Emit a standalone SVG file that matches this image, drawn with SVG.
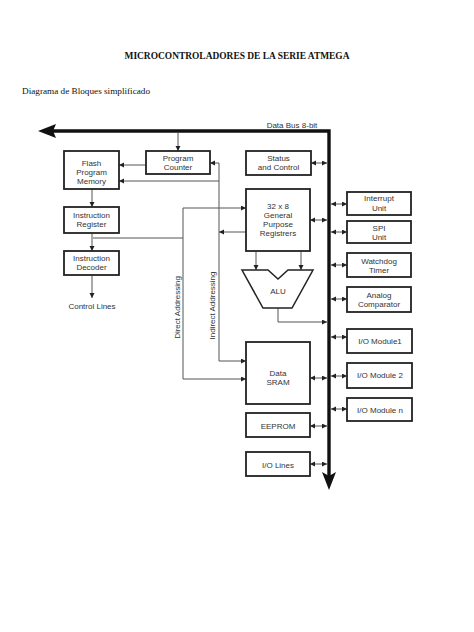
<svg xmlns="http://www.w3.org/2000/svg" width="474" height="632" viewBox="0 0 474 632">
<defs>
<style>
.box{fill:#fff;stroke:#222;stroke-width:1.8}
.t{font-family:"Liberation Sans",Arial,sans-serif;font-size:8px;fill:#333;text-anchor:middle}
.c{fill:none;stroke:#555;stroke-width:1}
.a{marker-end:url(#ah)}
.d{marker-start:url(#ah);marker-end:url(#ah)}
.bus{fill:none;stroke:#111;stroke-width:3.4;stroke-linejoin:miter}
</style>
<marker id="ah" markerUnits="userSpaceOnUse" markerWidth="6" markerHeight="6" refX="5" refY="2.5" orient="auto-start-reverse">
<path d="M0,0 L5,2.5 L0,5 z" fill="#222"/>
</marker>
</defs>
<rect width="474" height="632" fill="#fff"/>
<text x="237" y="59" font-family="Liberation Serif,Times New Roman,serif" font-weight="bold" font-size="9.4" text-anchor="middle" textLength="225" lengthAdjust="spacingAndGlyphs" fill="#111">MICROCONTROLADORES DE LA SERIE ATMEGA</text>
<text x="22" y="94" font-family="Liberation Serif,Times New Roman,serif" font-size="9" textLength="128" lengthAdjust="spacingAndGlyphs" fill="#111">Diagrama de Bloques simplificado</text>

<g id="bus">
<path class="bus" d="M52,131 H329 V476"/>
<polygon points="38,131 56,124 53,131 56,138" fill="#111"/>
<polygon points="329,490 322,472 329,476 336,472" fill="#111"/>
<text class="t" x="292" y="128">Data Bus 8-bit</text>
</g>

<g id="connectors">
<path class="c a" d="M178,132.5 V151"/>
<path class="c a" d="M146,165 H119"/>
<path class="c a" d="M219,163 H210"/>
<path class="c a" d="M219,163 V361 H246"/>
<path class="c a" d="M219,181 H119"/>
<path class="c a" d="M246,232 H219"/>
<path class="c" d="M93,238 H183"/>
<path class="c a" d="M183,208 V379 H246"/>
<path class="c a" d="M183,208 H246"/>
<path class="c a" d="M92,189 V207"/>
<path class="c a" d="M92,233 V251"/>
<path class="c a" d="M92,275 V298"/>
<path class="c a" d="M256,251 V270"/>
<path class="c a" d="M301,251 V270"/>
<path class="c a" d="M278,308 V322 H327"/>
<path class="c d" d="M311,163 H327"/>
<path class="c d" d="M310,220 H327"/>
<path class="c d" d="M310,378 H327"/>
<path class="c d" d="M310,426 H327"/>
<path class="c d" d="M310,464 H327"/>
<path class="c d" d="M331,204 H347"/>
<path class="c d" d="M331,232 H347"/>
<path class="c d" d="M331,265 H347"/>
<path class="c d" d="M331,299 H347"/>
<path class="c d" d="M331,337 H347"/>
<path class="c d" d="M331,376 H347"/>
<path class="c d" d="M331,409 H347"/>
<text class="t" transform="translate(180,307.5) rotate(-90)">Direct Addressing</text>
<text class="t" transform="translate(215,305.5) rotate(-90)">Indirect Addressing</text>
</g>

<g id="flash"><rect class="box" x="64" y="151" width="55" height="38"/>
<text class="t" x="91.5" y="165.5">Flash</text><text class="t" x="91.5" y="174.5">Program</text><text class="t" x="91.5" y="184">Memory</text></g>
<g id="pc"><rect class="box" x="146" y="151" width="64" height="23"/>
<text class="t" x="178" y="160.5">Program</text><text class="t" x="178" y="169.5">Counter</text></g>
<g id="ir"><rect class="box" x="64" y="207" width="55" height="26"/>
<text class="t" x="91.5" y="218">Instruction</text><text class="t" x="91.5" y="227">Register</text></g>
<g id="id"><rect class="box" x="64" y="251" width="55" height="24"/>
<text class="t" x="91.5" y="261">Instruction</text><text class="t" x="91.5" y="270">Decoder</text></g>
<g id="control"><text class="t" x="92" y="309">Control Lines</text></g>
<g id="status"><rect class="box" x="246" y="151" width="65" height="24"/>
<text class="t" x="278.5" y="160.5">Status</text><text class="t" x="278.5" y="169.5">and Control</text></g>
<g id="gpr"><rect class="box" x="246" y="189" width="64" height="62"/>
<text class="t" x="278" y="208.5">32 x 8</text><text class="t" x="278" y="217.5">General</text><text class="t" x="278" y="227">Purpose</text><text class="t" x="278" y="236">Registrers</text></g>
<g id="alu"><polygon class="box" points="242,270 268,270 278,279 288,270 313,270 292,308 263,308" style="stroke-width:1.5"/>
<text class="t" x="278" y="294">ALU</text></g>
<g id="sram"><rect class="box" x="246" y="342" width="64" height="62"/>
<text class="t" x="278" y="375.5">Data</text><text class="t" x="278" y="385">SRAM</text></g>
<g id="eeprom"><rect class="box" x="246" y="413" width="64" height="24"/>
<text class="t" x="278" y="428.5">EEPROM</text></g>
<g id="iolines"><rect class="box" x="246" y="452" width="64" height="24"/>
<text class="t" x="278" y="468">I/O Lines</text></g>
<g id="interrupt"><rect class="box" x="347" y="192" width="64" height="23"/>
<text class="t" x="379" y="201">Interrupt</text><text class="t" x="379" y="210.5">Unit</text></g>
<g id="spi"><rect class="box" x="347" y="221" width="64" height="22"/>
<text class="t" x="379" y="230.5">SPI</text><text class="t" x="379" y="240">Unit</text></g>
<g id="watchdog"><rect class="box" x="347" y="253" width="64" height="24"/>
<text class="t" x="379" y="263.5">Watchdog</text><text class="t" x="379" y="273">Timer</text></g>
<g id="analog"><rect class="box" x="347" y="287" width="64" height="25"/>
<text class="t" x="379" y="298">Analog</text><text class="t" x="379" y="307">Comparator</text></g>
<g id="io1"><rect class="box" x="347" y="329" width="65" height="24"/>
<text class="t" x="380" y="343.5">I/O Module1</text></g>
<g id="io2"><rect class="box" x="347" y="363" width="65" height="25"/>
<text class="t" x="380" y="378">I/O Module 2</text></g>
<g id="ion"><rect class="box" x="347" y="398" width="65" height="23"/>
<text class="t" x="380" y="413">I/O Module n</text></g>
</svg>
